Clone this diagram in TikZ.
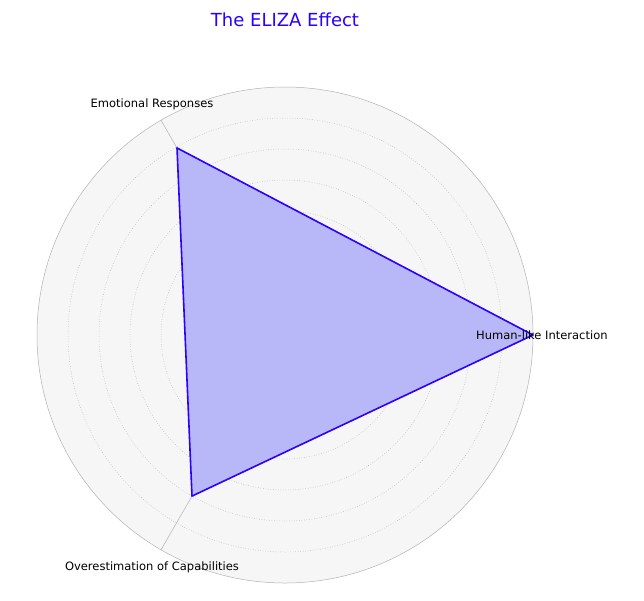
\documentclass[tikz,border=0pt]{standalone}
\usepackage{fontspec}
\setmainfont{DejaVu Sans}
\definecolor{ttl}{HTML}{2A00FF}
\definecolor{fillb}{HTML}{B8B8F8}
\definecolor{bg}{HTML}{F6F6F6}
\tikzset{grid/.style={draw=gray!70,dotted,line width=0.5pt},
 axisl/.style={draw=gray!60,line width=0.5pt},
 lbl/.style={font=\fontsize{11.5}{13}\selectfont,inner sep=0pt}}
\begin{document}
\begin{tikzpicture}[x=1pt,y=-1pt]
\useasboundingbox (0,0) rectangle (644,600);
\coordinate (c) at (285,335);
\fill[bg] (c) circle (248);
\foreach \r in {31,62,...,217} \draw[grid] (c) circle (\r);
\draw[draw=gray!60,line width=0.5pt] (c) circle (248);
\foreach \a in {0,120,240} \draw[axisl] (c) -- ++(-\a:248);
\path (c) ++(-120:216) coordinate (p2);
\path (c) ++(-240:186) coordinate (p3);
\path (c) ++(0:248) coordinate (p1);
\filldraw[fill=fillb,draw=ttl,line width=1.6pt,line join=round] (p1) -- (p2) -- (p3) -- cycle;
\node[lbl,anchor=west] (l1) at (476,335) {Human-like Interaction};
\node[lbl] (l2) at (152,104) {Emotional Responses};
\node[lbl] (l3) at (152,567) {Overestimation of Capabilities};
\node[font=\fontsize{18}{20}\selectfont,text=ttl] (t) at (285,20) {The ELIZA Effect};
\end{tikzpicture}
\end{document}
